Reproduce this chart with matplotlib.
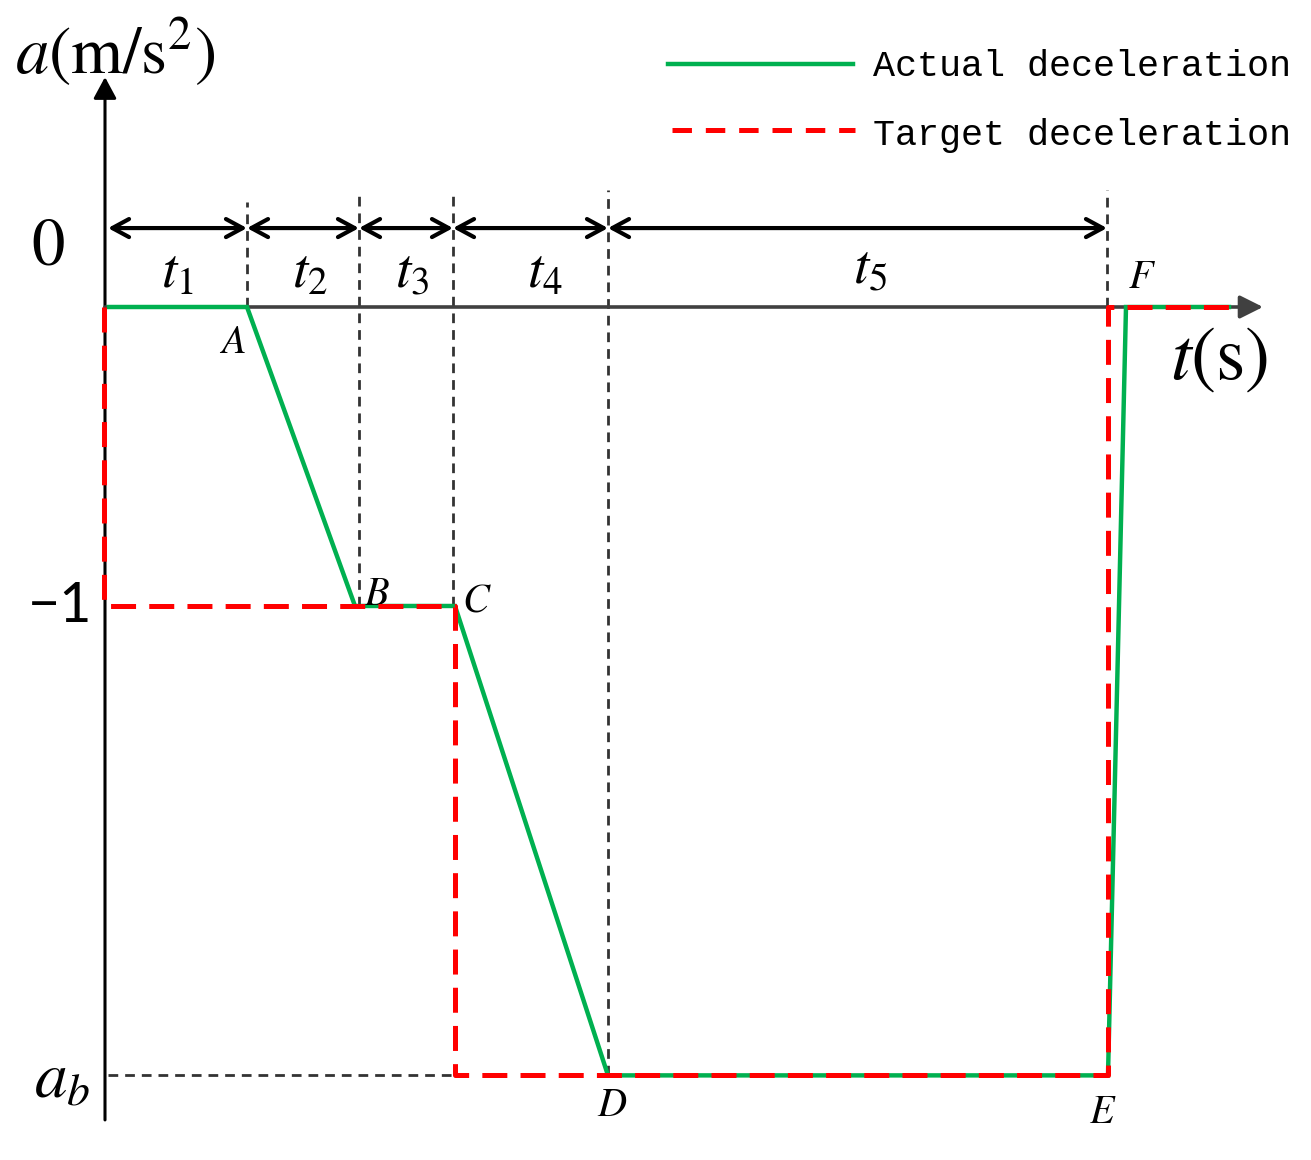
import matplotlib
matplotlib.use("Agg")
import matplotlib.pyplot as plt

plt.rcParams['mathtext.fontset'] = 'stix'
plt.rcParams['lines.scale_dashes'] = False

# ---- data (time in arbitrary units, acceleration in m/s^2) ----
a_b = -2.57
t_actual = [0.4, 14.2, 25.0, 35.0, 50.3, 100.3, 102.1, 112.4]
a_actual = [0, 0, -1, -1, a_b, a_b, 0, 0]
t_target = [-0.1, -0.1, 35.0, 35.0, 100.3, 100.3, 112.4]
a_target = [0, -1, -1, a_b, a_b, 0, 0]
phase_bounds = [0.3, 14.2, 25.4, 34.8, 50.3, 100.2]
phase_labels = [r'$t_1$', r'$t_2$', r'$t_3$', r'$t_4$', r'$t_5$']
guide_lo = [0, -1, -1, a_b, 0]          # lower end of each guide line (A..E)
guide_tops = [0.351, 0.391, 0.391, 0.391, 0.391]
point_names = ['A', 'B', 'C', 'D', 'E', 'F']

GREEN = '#00B050'
RED = '#FF0000'
GUIDE = '#333333'

fig = plt.figure(figsize=(13.11, 11.6), dpi=100)
ax = fig.add_axes([0, 0, 1, 1])
ax.set_xlim(-10.5, 120.6)
ax.set_ylim(-2.853, 1.0268)
ax.axis('off')

# ---- axes with arrows ----
ax.annotate('', xy=(0, 0.769), xytext=(0, -2.719),
            arrowprops=dict(arrowstyle='-|>,head_length=13,head_width=7',
                            mutation_scale=1, lw=2.2, color='black',
                            shrinkA=0, shrinkB=0), zorder=2)
ax.annotate('', xy=(115.8, 0), xytext=(0, 0),
            arrowprops=dict(arrowstyle='-|>,head_length=14,head_width=7',
                            mutation_scale=1, lw=2.6, color='#404040',
                            shrinkA=0, shrinkB=0), zorder=2)

# ---- guide dashed lines ----
for x, lo, hi in zip(phase_bounds[1:], guide_lo, guide_tops):
    ax.plot([x, x], [lo, hi], color=GUIDE, lw=2.0, dashes=(7, 5), zorder=1)
ax.plot([0.3, 34.8], [a_b, a_b], color=GUIDE, lw=2.0, dashes=(7, 5), zorder=1)

# ---- curves ----
ax.plot(t_actual, a_actual, color=GREEN, lw=3.2, solid_joinstyle='miter', zorder=3)
ax.plot(t_target, a_target, color=RED, lw=3.6, dashes=(18, 9.5), zorder=4)

# ---- phase arrows and labels ----
arrow_y = 0.264
for i in range(len(phase_labels)):
    ax.annotate('', xy=(phase_bounds[i + 1], arrow_y), xytext=(phase_bounds[i], arrow_y),
                arrowprops=dict(arrowstyle='<->,head_length=12,head_width=6.5',
                                mutation_scale=1, lw=3.0, color='black',
                                shrinkA=0, shrinkB=0), zorder=2)
label_x = [7.2, 20.5, 30.7, 44.0, 76.5]
label_y = [0.117, 0.117, 0.117, 0.117, 0.130]
for s, x, y in zip(phase_labels, label_x, label_y):
    ax.text(x, y, s, fontsize=40, ha='center', va='center')

# ---- point letters ----
pt_x = [12.7, 27.2, 37.2, 50.7, 99.8, 103.7]
pt_y = [-0.117, -0.960, -0.980, -2.669, -2.692, 0.100]
for s, x, y in zip(point_names, pt_x, pt_y):
    ax.text(x, y, '$' + s + '$', fontsize=29, ha='center', va='center')

# ---- axis labels ----
ax.text(-5.7, 0.207, r'$0$', fontsize=48, ha='center', va='center')
ax.text(-4.5, -1.003, '\u22121', fontsize=40, ha='center', va='center', family='Lato')
ax.text(-4.3, -2.585, r'$a_b$', fontsize=47, ha='center', va='center')
ax.text(-9.0, 0.853, r'$a(\mathrm{m/s^2})$', fontsize=48, ha='left', va='center')
ax.text(106.5, -0.171, r'$t(\mathrm{s})$', fontsize=54, ha='left', va='center')

# ---- legend ----
ax.plot([56.3, 74.8], [0.813, 0.813], color=GREEN, lw=3.2)
ax.plot([56.7, 75.0], [0.592, 0.592], color=RED, lw=3.6, dashes=(14, 10))
ax.text(76.8, 0.806, 'Actual deceleration', fontsize=26.5, family='Liberation Mono',
        ha='left', va='center')
ax.text(76.8, 0.572, 'Target deceleration', fontsize=26.5, family='Liberation Mono',
        ha='left', va='center')

fig.savefig('out.png', dpi=100)
